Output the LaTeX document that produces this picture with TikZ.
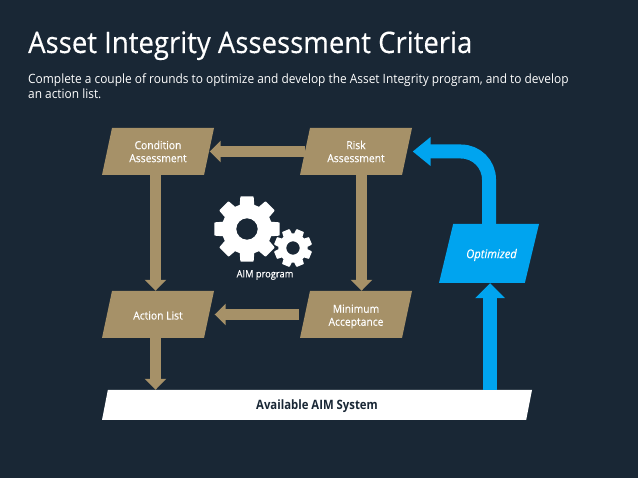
\documentclass[tikz,border=0pt]{standalone}
\usepackage{fontspec}
\setmainfont[FakeStretch=0.93]{Open Sans}
\newfontfamily\mediumfont[FakeBold=0.25,FakeStretch=0.93]{Open Sans}
\newfontfamily\heavyfont[FakeStretch=0.88]{Open Sans}
\usetikzlibrary{arrows.meta,shapes.geometric}

\definecolor{bgnavy}{RGB}{25,39,53}
\definecolor{gold}{RGB}{166,145,104}
\definecolor{skyblue}{RGB}{0,164,239}

% label box, its height sets the height of the slanted shape
\newcommand{\boxlabel}[2][47pt]{\parbox[c][#1][c]{60pt}{\centering #2}}

\tikzset{
  slantbox/.style={trapezium, trapezium stretches body=true, trapezium left angle=78, trapezium right angle=102,
    minimum width=112pt, inner sep=0pt, fill=gold, text=white,
    font=\mediumfont\fontsize{11.1}{13}\selectfont},
  goldarrow/.style={draw=gold, line width=11pt, -{Triangle[length=11pt,width=21pt,fill=gold]}},
  bluearrow/.style={draw=skyblue, line width=14pt},
  pics/gearwheel/.style args={#1/#2/#3/#4}{code={
    \fill[white, draw=white, line width=1.5pt, line join=round, even odd rule, rotate=#4]
      (-15.5:#2pt) \foreach \a in {0,45,...,315} {
        -- (\a-15.5:#2pt) -- (\a-10.5:#1pt) -- (\a+10.5:#1pt) -- (\a+15.5:#2pt)
      } -- cycle (0,0) circle [radius=#3pt];
  }},
}

\begin{document}
\begin{tikzpicture}[x=1pt, y=-1pt]
  \fill[bgnavy] (0,0) rectangle (638,478);
  \useasboundingbox (0,0) rectangle (638,478);

  % heading
  \node (title) at (28,53) [anchor=base west, inner sep=0pt, text=white, font=\mediumfont\fontsize{29.6}{34}\selectfont] {Asset Integrity Assessment Criteria};
  \node (intro) at (28,73.5) [anchor=north west, inner sep=0pt, text=white, align=left, font=\fontsize{12.8}{15.5}\selectfont]
    {Complete a couple of rounds to optimize and develop the Asset Integrity program, and to develop\\an action list.};

  % boxes
  \node (condition) at (158,151.5) [slantbox] {\boxlabel{Condition\\Assessment}};
  \node (risk) at (356,151.5) [slantbox] {\boxlabel{Risk\\Assessment}};
  \node (action) at (158,314.5) [slantbox] {\boxlabel{\vspace*{2pt}Action List}};
  \node (minimum) at (356,314.5) [slantbox] {\boxlabel{\vspace*{4pt}Minimum\\Acceptance}};
  \node (optimized) at (489,253.5) [slantbox, trapezium left angle=76.5, trapezium right angle=103.5, minimum width=100pt,
    fill=skyblue, font=\mediumfont\fontsize{12}{14}\selectfont\itshape] {\boxlabel[59pt]{\vspace*{3pt}\hspace*{5pt}Optimized}};
  \node (system) at (317,405) [slantbox, trapezium left angle=79, trapezium right angle=101, minimum width=430pt,
    fill=white, text=bgnavy, font=\heavyfont\bfseries\fontsize{12.9}{15}\selectfont] {\boxlabel[30pt]{\vspace*{3pt}\makebox[0pt]{Available AIM System}}};

  % gold connections
  \draw[goldarrow] (risk.west) -- ([xshift=0.5pt]condition.east);
  \draw[goldarrow] ([xshift=-2.5pt]condition.south) -- ([xshift=-2.5pt]action.north);
  \draw[goldarrow] ([xshift=5.5pt]risk.south) -- ([xshift=5.5pt]minimum.north);
  \draw[goldarrow] ([xshift=-6pt]minimum.west) -- ([xshift=5.5pt]action.east);
  \draw[goldarrow] ([xshift=-2.5pt]action.south) -- ([xshift=-2.5pt]action.south |- system.north);

  % blue connections
  \draw[bluearrow, -{Triangle[length=15pt,width=29pt,fill=skyblue]}] ([xshift=1pt]optimized.south |- system.north) -- ([xshift=1pt]optimized.south);
  \draw[bluearrow, rounded corners=28pt, -{Triangle[length=18pt,width=28pt,fill=skyblue]}] (optimized.north) |- ([xshift=5.5pt]risk.east);

  % gears
  \pic at (247,229) {gearwheel={32.5/24.5/11.5/0}};
  \pic at (293,248) {gearwheel={18.5/14/7.5/22.5}};
  \node (program) at (265,275) [inner sep=0pt, text=white, font=\mediumfont\fontsize{10}{12}\selectfont] {AIM program};
\end{tikzpicture}
\end{document}
